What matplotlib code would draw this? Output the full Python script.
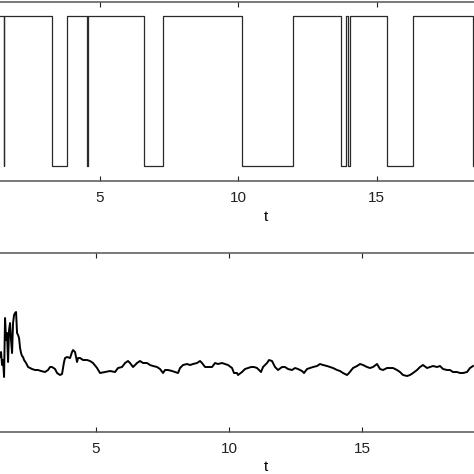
import numpy as np
import matplotlib
matplotlib.use('Agg')
import matplotlib.pyplot as plt

plt.rcParams['font.family'] = ['Liberation Sans', 'DejaVu Sans']

# [Top: switching signal, switch instants and level after each one]
switch_t = [0.0, 1.52, 1.55, 3.28, 3.81, 4.54, 4.57, 6.59, 7.27, 10.14,
            11.98, 13.73, 13.91, 13.96, 14.05, 15.39, 16.31, 18.47, 20.0]
switch_level = [1, 0, 1, 0, 1, 0, 1, 0, 1, 0,
                1, 0, 1, 0, 1, 0, 1, 0, 0]

# [Bottom: noisy trajectory]
traj_t = [1.412, 1.449, 1.487, 1.524, 1.562, 1.599, 1.637, 1.674, 1.712, 1.749,
          1.787, 1.824, 1.862, 1.899, 1.937, 1.974, 2.012, 2.049, 2.087, 2.124,
          2.162, 2.199, 2.237, 2.274, 2.312, 2.387, 2.462, 2.537, 2.612, 2.724,
          2.837, 2.949, 3.099, 3.211, 3.286, 3.361, 3.474, 3.549, 3.661, 3.736,
          3.811, 3.849, 3.924, 4.036, 4.111, 4.149, 4.224, 4.299, 4.336, 4.411,
          4.524, 4.674, 4.786, 4.899, 5.049, 5.161, 5.349, 5.536, 5.724, 5.836,
          5.986, 6.099, 6.211, 6.286, 6.399, 6.549, 6.661, 6.774, 6.924, 7.036,
          7.149, 7.299, 7.411, 7.524, 7.599, 7.711, 7.861, 7.974, 8.086, 8.161,
          8.274, 8.424, 8.536, 8.649, 8.799, 8.911, 8.986, 9.099, 9.211, 9.361,
          9.474, 9.586, 9.736, 9.849, 9.961, 10.111, 10.186, 10.299, 10.336, 10.486,
          10.599, 10.711, 10.824, 10.936, 11.049, 11.199, 11.274, 11.424, 11.499, 11.611,
          11.724, 11.836, 11.986, 12.099, 12.211, 12.361, 12.474, 12.586, 12.736, 12.811,
          12.924, 13.036, 13.149, 13.299, 13.411, 13.524, 13.674, 13.786, 13.899, 14.049,
          14.161, 14.274, 14.424, 14.499, 14.649, 14.799, 14.911, 15.024, 15.174, 15.286,
          15.399, 15.549, 15.661, 15.774, 15.924, 16.036, 16.149, 16.299, 16.411, 16.524,
          16.674, 16.786, 16.899, 17.049, 17.161, 17.274, 17.424, 17.536, 17.649, 17.799,
          17.911, 18.024, 18.174, 18.286, 18.399, 18.549, 18.661, 18.774, 18.924, 19.036,
          19.149]
traj_val = [0.75, 0.80, 0.67, 0.72, 0.55, 1.14, 0.92, 0.99, 0.70, 1.02,
            1.09, 0.92, 0.79, 1.09, 1.17, 1.19, 1.20, 0.99, 0.97, 0.94,
            0.84, 0.79, 0.76, 0.75, 0.72, 0.69, 0.65, 0.64, 0.63, 0.62,
            0.62, 0.61, 0.60, 0.62, 0.65, 0.65, 0.63, 0.59, 0.57, 0.58,
            0.70, 0.74, 0.75, 0.74, 0.80, 0.82, 0.80, 0.70, 0.74, 0.74,
            0.72, 0.72, 0.71, 0.69, 0.64, 0.59, 0.60, 0.61, 0.60, 0.64,
            0.65, 0.69, 0.71, 0.69, 0.65, 0.69, 0.71, 0.69, 0.69, 0.67,
            0.66, 0.65, 0.63, 0.59, 0.62, 0.62, 0.61, 0.60, 0.59, 0.64,
            0.67, 0.68, 0.67, 0.68, 0.69, 0.71, 0.69, 0.65, 0.65, 0.65,
            0.69, 0.68, 0.69, 0.68, 0.67, 0.64, 0.59, 0.59, 0.57, 0.60,
            0.63, 0.64, 0.65, 0.65, 0.64, 0.60, 0.65, 0.69, 0.72, 0.71,
            0.65, 0.62, 0.65, 0.65, 0.63, 0.62, 0.64, 0.63, 0.61, 0.59,
            0.63, 0.64, 0.65, 0.66, 0.68, 0.67, 0.66, 0.65, 0.64, 0.62,
            0.61, 0.59, 0.57, 0.59, 0.64, 0.66, 0.68, 0.67, 0.65, 0.64,
            0.65, 0.68, 0.63, 0.62, 0.64, 0.64, 0.64, 0.62, 0.60, 0.57,
            0.56, 0.57, 0.59, 0.62, 0.65, 0.67, 0.64, 0.65, 0.66, 0.65,
            0.66, 0.63, 0.62, 0.62, 0.60, 0.60, 0.59, 0.59, 0.60, 0.64,
            0.66]

xticks = [5, 10, 15]

fig = plt.figure(figsize=(4.74, 4.74), dpi=100)

# axes deliberately wider than the figure (picture is a crop)
ax1 = fig.add_axes([-0.0812, 0.6181, 1.1677, 0.3787])
ax2 = fig.add_axes([-0.0793, 0.0886, 1.1251, 0.3776])

ax1.plot(switch_t, switch_level, drawstyle='steps-post', color='#2a2a2a', lw=0.9)
ax1.set_ylim(-0.1, 1.097)
ax2.plot(traj_t, traj_val, color='black', lw=1.4)
ax2.set_ylim(0, 1.79)

for ax, lab_x, lab_y in [(ax1, 0.5496, -0.16), (ax2, 0.5687, -0.155)]:
    ax.set_xlim(0, 20)
    ax.set_xticks(xticks)
    ax.set_yticks([])
    ax.tick_params(axis='x', direction='in', length=3.6, width=0.8,
                   top=True, labelsize=11, pad=7, colors='#222222')
    for s in ax.spines.values():
        s.set_color('#555555')
        s.set_linewidth(1.1)
    ax.set_xlabel('t', fontsize=11)
    ax.xaxis.set_label_coords(lab_x, lab_y)

plt.savefig('out.png', dpi=100)
